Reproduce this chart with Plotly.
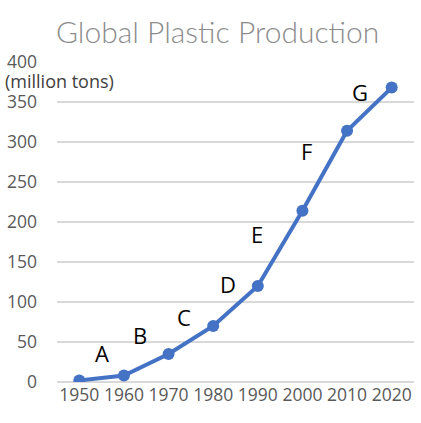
import plotly.graph_objects as go

years = ["1950", "1960", "1970", "1980", "1990", "2000", "2010", "2020"]
production = [2, 8, 35, 70, 120, 214, 314, 368]
labels = ["A", "B", "C", "D", "E", "F", "G"]
y_ticks = [0, 50, 100, 150, 200, 250, 300, 350, 400]

fig = go.Figure()
fig.add_trace(go.Scatter(
    x=list(range(len(years))), y=production, mode="lines+markers",
    line=dict(color="#4472C4", width=4),
    marker=dict(color="#4472C4", size=12),
    hoverinfo="skip", showlegend=False,
))

# segment labels: offset from each segment's midpoint (index units, value units)
label_offsets = [(0.0, 31), (-0.15, 37), (-0.15, 29), (-0.16, 27), (-0.51, 18), (-0.4, 25), (-0.22, 21)]
for i, lab in enumerate(labels):
    dx, dy = label_offsets[i]
    mid_x = i + 0.5
    mid_y = (production[i] + production[i + 1]) / 2
    fig.add_annotation(
        x=mid_x + dx, y=mid_y + dy, xref="x", yref="y", text=lab, showarrow=False,
        font=dict(family="Open Sans, sans-serif", size=22, color="#000000"),
    )

fig.add_annotation(
    x=0, y=1.0, xref="paper", yref="paper", xshift=-54, yshift=-19,
    text="(million tons)", showarrow=False, xanchor="left", yanchor="middle",
    font=dict(family="Open Sans, sans-serif", size=18, color="#404040"),
)

fig.update_layout(
    width=421, height=423,
    margin=dict(l=57, r=7, t=62, b=41, autoexpand=False),
    paper_bgcolor="white", plot_bgcolor="white",
    title=dict(text="Global Plastic Production", xref="container", x=0.517, xanchor="center",
               yref="container", y=0.922, yanchor="middle", automargin=False,
               font=dict(family="Lato, sans-serif", size=30, color="#8c8c8c", weight=300)),
    xaxis=dict(range=[-0.5, 7.5], tickvals=list(range(len(years))), ticktext=years,
               showgrid=False, showline=False, zeroline=False, automargin=False,
               ticks="", tickfont=dict(family="Open Sans, sans-serif", size=17.5, color="#595959"),
               fixedrange=True),
    yaxis=dict(range=[0, 400], tickvals=y_ticks, showgrid=True, gridcolor="#d9d9d9",
               gridwidth=1.5, zeroline=True, zerolinecolor="#d9d9d9", zerolinewidth=1.5,
               showline=False, ticks="", ticklabelstandoff=19, automargin=False,
               tickfont=dict(family="Open Sans, sans-serif", size=17.5, color="#595959"),
               fixedrange=True),
)

fig.write_html("out.html", config={"displayModeBar": False},
               post_script="document.body.style.margin='0';document.body.style.overflow='hidden';")
